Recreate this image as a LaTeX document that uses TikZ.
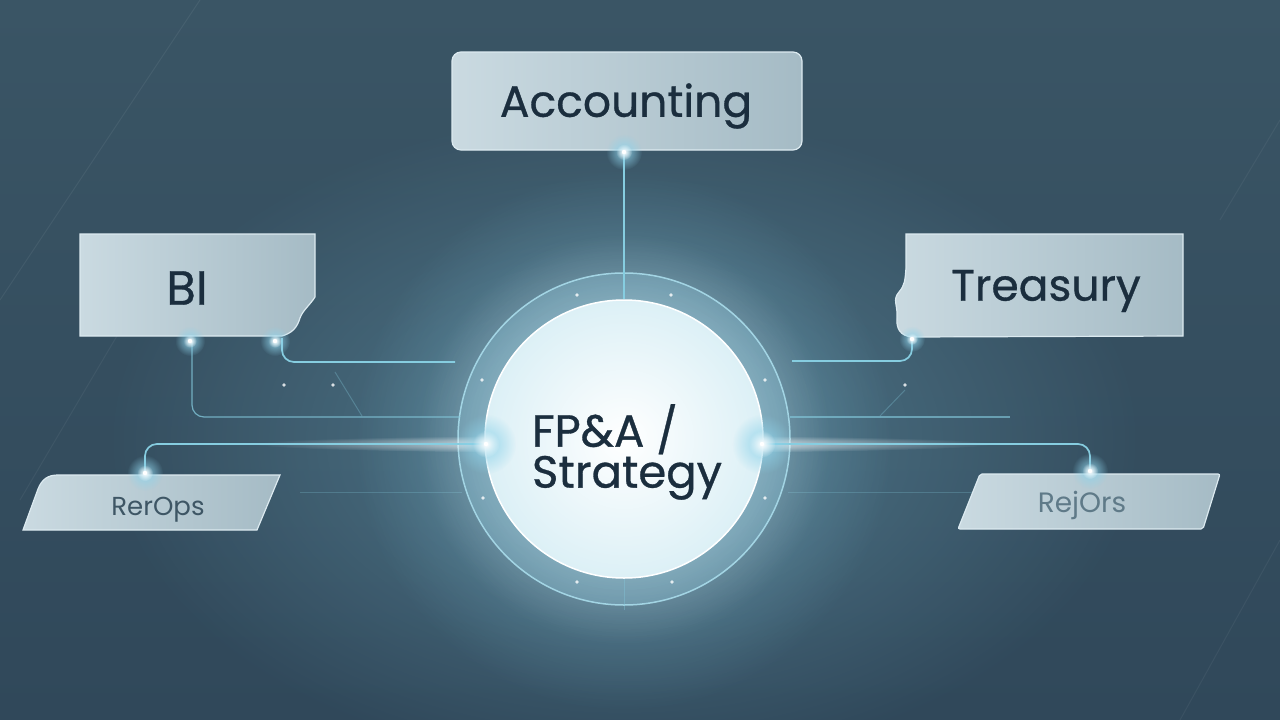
\documentclass[tikz,border=0pt]{standalone}
\usepackage{fontspec}
\setmainfont{Poppins}
\newfontfamily\medfont{Poppins}[FakeBold=0.7]
\usetikzlibrary{fadings,calc}
\tikzfading[name=glowfade, inner color=transparent!0, outer color=transparent!100]
\definecolor{bgtop}{HTML}{3A5565}
\definecolor{bgbot}{HTML}{30485A}
\definecolor{bgglow}{HTML}{5A879B}
\definecolor{glowc}{HTML}{8FD3EA}
\definecolor{linec}{HTML}{86CDE0}
\definecolor{ringc}{HTML}{A9DCEB}
\definecolor{boxL}{HTML}{CADAE1}
\definecolor{boxR}{HTML}{A5BBC5}
\definecolor{boxedge}{HTML}{DCEAF0}
\definecolor{txt}{HTML}{1B2E3E}
\definecolor{txtsoft}{HTML}{3E5665}
\definecolor{txtfade}{HTML}{5F7A88}
\definecolor{hubedge}{HTML}{DCF0F6}
\newcommand\glowdot[2]{%
  \fill[glowc, path fading=glowfade, opacity=0.9] (#1) circle (#2);
  \fill[white, path fading=glowfade] (#1) circle (#2*0.45);
  \fill[white] (#1) circle (2.2);}
\begin{document}
\begin{tikzpicture}[x=1pt,y=-1pt,
  boxsh/.style={draw=boxedge, line width=1.2pt, left color=boxL, right color=boxR},
  conn/.style={draw=linec, line width=1.7pt, rounded corners=12pt},
  faint/.style={draw=linec, line width=1pt, opacity=0.45},
  lbl/.style={text=txt, inner sep=0pt, align=center}]
\useasboundingbox (0,0) rectangle (1280,720);
% background
\shade[top color=bgtop, bottom color=bgbot] (0,0) rectangle (1280,720);
\fill[bgglow, path fading=glowfade, opacity=0.8] (624,440) ellipse (520 and 330);
\fill[glowc, path fading=glowfade, opacity=0.5] (624,440) circle (270);
% faint background diagonals
\draw[white, opacity=0.06, line width=1pt] (0,300) -- (200,0);
\draw[white, opacity=0.05, line width=1pt] (20,500) -- (150,280);
\draw[white, opacity=0.05, line width=1pt] (1180,720) -- (1280,540);
\draw[white, opacity=0.05, line width=1pt] (1220,220) -- (1280,120);
% faint horizontal lines
\coordinate (fl1) at (300,492); \coordinate (fl2) at (462,492);
\coordinate (fr1) at (788,492); \coordinate (fr2) at (1000,492);
\draw[faint, opacity=0.25] (fl1) -- (fl2);
\draw[faint, opacity=0.25] (fr1) -- (fr2);
% diagonal faint strokes
\coordinate (d1a) at (335,372); \coordinate (d1b) at (362,416);
\coordinate (d2a) at (905,390); \coordinate (d2b) at (880,416);
\draw[faint, opacity=0.3] (d1a) -- (d1b);
\draw[faint, opacity=0.3] (d2a) -- (d2b);

% hub ring and circle
\fill[glowc, opacity=0.25, even odd rule] (624,439) circle (166) circle (139);
\fill[white, path fading=glowfade, opacity=0.55] (624,439) circle (205);
\draw[ringc, line width=1.5pt, opacity=0.9] (624,439) circle (166);
\fill[white, path fading=glowfade, opacity=0.9] (624,444) ellipse (370 and 9);
\node[circle, minimum size=278pt, inner sep=0pt, inner color=white, outer color=hubedge,
      draw=white, line width=1.5pt] (hub) at (624,439) {};
\node[lbl, align=left, font=\medfont\fontsize{45}{41}\selectfont] (hubtxt) at (627,452) {FP\&A /\\Strategy};
\foreach \p in {(577,295),(671,295),(482,380),(765,380),(483,498),(765,498),(577,582),(672,582)}
  \fill[white, opacity=0.8] \p circle (1.8);

% Accounting
\node[boxsh, rounded corners=9pt, minimum width=350pt, minimum height=98pt, inner sep=0pt]
  (accbox) at (627,101) {};
\node[lbl, font=\medfont\fontsize{44}{50}\selectfont] (acc) at (626,106) {Accounting};

% BI
\path[boxsh] (80,234) -- (315,234) -- (315,297) .. controls (310,305) and (303,310) .. (300,318)
  .. controls (297,328) and (292,333) .. (282,336) -- (80,336) -- cycle;
\node[lbl, font=\medfont\fontsize{48}{52}\selectfont] (bi) at (187,288) {BI};
\coordinate (bi1) at (192,341); \coordinate (bi2) at (282,338);

% Treasury
\path[boxsh] (906,234) -- (1183,234) -- (1183,336) -- (912,337)
  .. controls (900,336) and (896,328) .. (897,318) .. controls (898,305) and (892,300) .. (899,292)
  .. controls (905,285) and (905,280) .. (906,268) -- cycle;
\node[lbl, font=\medfont\fontsize{44}{50}\selectfont] (tr) at (1046,291) {Treasury};
\coordinate (tr1) at (912,339);

% RevOps left
\path[boxsh] (23,530) -- (38,489) .. controls (42,479) and (48,475) .. (58,475) -- (280,475)
  -- (257,530) -- cycle;
\node[lbl, text=txtsoft, font=\fontsize{26}{30}\selectfont] (rv1t) at (158,510) {RerOps};
\coordinate (rv1) at (145,473);

% RevOps right
\path[boxsh, rounded corners=2pt] (980,474) -- (1220,474) -- (1203,529) -- (958,529) -- cycle;
\node[lbl, text=txtfade, font=\fontsize{28}{30}\selectfont] (rv2t) at (1082,505) {RejOrs};
\coordinate (rv2) at (1090,472);

% connector endpoints
\coordinate (hl) at (486,444); \coordinate (hr) at (762,444);
\coordinate (biend1) at (455,362); \coordinate (biend2) at (460,417);
\coordinate (trend1) at (792,361);
\coordinate (ra) at (790,417); \coordinate (rb) at (1010,417);
\coordinate (hbot) at (624,610);

% connectors
\draw[conn] (hub.north |- accbox.south) -- (hub.north);
\draw[faint, opacity=0.35] (hub.south) -- (hbot);
\draw[conn] (bi2) |- (biend1);
\draw[conn, line width=1.2pt, opacity=0.75] (bi1) |- (biend2);
\draw[conn] (tr1) |- (trend1);
\draw[conn, line width=1.2pt, opacity=0.6] (ra) -- (rb);
\draw[conn] (rv1) |- (hl);
\draw[conn] (rv2) |- (hr);

% small dots
\foreach \p in {(284,385),(333,385),(905,385)}
  \fill[white, opacity=0.8] \p circle (1.8);

% glow dots
\glowdot{624,152}{18}
\glowdot{190,341}{15}
\glowdot{275,341}{15}
\glowdot{145,473}{18}
\glowdot{912,339}{13}
\glowdot{1090,471}{18}
\glowdot{486,444}{30}
\glowdot{762,444}{30}
\end{tikzpicture}
\end{document}
